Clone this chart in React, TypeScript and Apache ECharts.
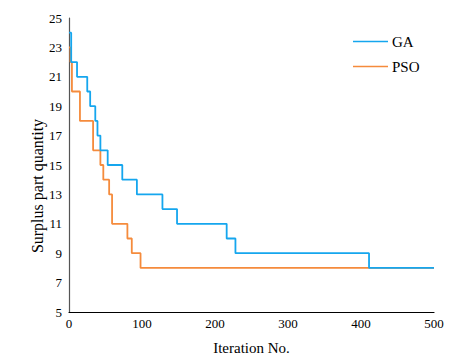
import React, { useEffect, useRef } from "react";
import * as echarts from "echarts";

const gaIter = [0, 3, 11, 25, 29, 36, 39, 43, 53, 73, 93, 128, 148, 216, 228, 411, 500];
const gaValue = [24, 22, 21, 20, 19, 18, 17, 16, 15, 14, 13, 12, 11, 10, 9, 8, 8];
const psoIter = [0, 2, 4, 15, 33, 43, 47, 55, 59, 80, 86, 98, 500];
const psoValue = [23, 22, 20, 18, 16, 15, 14, 13, 11, 10, 9, 8, 8];
const xTicks = [0, 100, 200, 300, 400, 500];
const yTicks = [5, 7, 9, 11, 13, 15, 17, 19, 21, 23, 25];

const FONT = "'Liberation Serif', 'Times New Roman', serif";

export default function App() {
  const ref = useRef<HTMLDivElement>(null);
  useEffect(() => {
    if (!ref.current) return;
    const chart = echarts.init(ref.current, undefined, { renderer: "svg" });
    chart.setOption({
      animation: false,
      backgroundColor: "#ffffff",
      grid: { left: 69, right: 35, top: 18, bottom: 50 },
      legend: {
        data: ["GA", "PSO"],
        orient: "vertical",
        left: 353,
        top: 34,
        padding: 0,
        itemWidth: 35,
        itemHeight: 10,
        itemGap: 10,
        icon: "path://M0,4.2 L35,4.2 L35,5.8 L0,5.8 Z",
        textStyle: { fontFamily: FONT, fontSize: 15, color: "#000", padding: [0, 0, 0, -1] },
      },
      graphic: [
        {
          type: "text",
          x: 37,
          y: 186,
          rotation: Math.PI / 2,
          style: {
            text: "Surplus part quantity",
            fontFamily: FONT,
            fontSize: 16,
            fill: "#000",
            align: "center",
            verticalAlign: "middle",
          },
        },
      ],
      xAxis: {
        type: "value",
        min: xTicks[0],
        max: xTicks[xTicks.length - 1],
        interval: 100,
        name: "Iteration No.",
        nameLocation: "middle",
        nameGap: 28,
        nameTextStyle: { fontFamily: FONT, fontSize: 15, color: "#000" },
        axisLine: { show: true, lineStyle: { color: "#000", width: 1.2 } },
        axisTick: { show: false },
        splitLine: { show: false },
        axisLabel: { fontFamily: FONT, fontSize: 13, color: "#000", margin: 5 },
      },
      yAxis: {
        type: "value",
        min: yTicks[0],
        max: yTicks[yTicks.length - 1],
        interval: 2,
        axisLine: { show: true, lineStyle: { color: "#555", width: 1.2 } },
        axisTick: { show: false },
        splitLine: { show: false },
        axisLabel: { fontFamily: FONT, fontSize: 13, color: "#000", margin: 7 },
      },
      series: [
        {
          name: "PSO",
          type: "line",
          step: "end",
          symbol: "none",
          color: "#F58B3C",
          lineStyle: { width: 1.8, color: "#F58B3C" },
          data: psoIter.map((x, i) => [x, psoValue[i]]),
        },
        {
          name: "GA",
          type: "line",
          step: "end",
          symbol: "none",
          color: "#15A6EE",
          lineStyle: { width: 1.8, color: "#15A6EE" },
          data: gaIter.map((x, i) => [x, gaValue[i]]),
        },
      ],
    });
    return () => chart.dispose();
  }, []);
  return <div ref={ref} style={{ width: 469, height: 362, position: "absolute", left: 0, top: 0 }} />;
}
